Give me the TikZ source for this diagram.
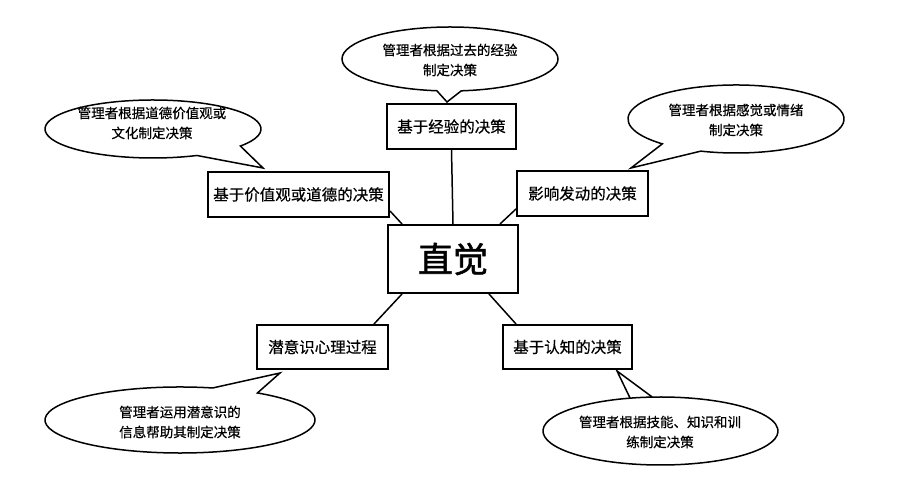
\documentclass[tikz,border=0pt]{standalone}
\usepackage{fontspec}
\setmainfont{Noto Sans CJK SC}[FakeBold=0.5]
\newfontfamily\corefont{Noto Sans CJK SC}[FakeBold=1.5]
\usetikzlibrary{calc}
\begin{document}
\begin{tikzpicture}[x=1pt,y=1pt,
  box/.style={draw, line width=2pt, inner sep=0pt, minimum height=45pt, font=\fontsize{15.5}{18}\selectfont},
  bubble/.style={draw, line width=1.5pt, fill=white, line join=miter},
  btext/.style={align=center, inner sep=0pt, font=\fontsize{13.5}{20}\selectfont},
  link/.style={line width=1.5pt}]
\useasboundingbox[fill=white] (0,0) rectangle (900,500);

% boxes
\node[box, minimum width=130pt, minimum height=68pt, font=\corefont\fontsize{35}{40}\selectfont] (core) at (453,241) {直觉};
\node[box, minimum width=129pt] (top) at (451.5,373.5) {基于经验的决策};
\node[box, minimum width=181pt] (left) at (298.5,305.5) {基于价值观或道德的决策};
\node[box, minimum width=131pt] (right) at (582.5,306.5) {影响发动的决策};
\node[box, minimum width=131pt, minimum height=44pt] (bl) at (322.5,153) {潜意识心理过程};
\node[box, minimum width=129pt, minimum height=44pt] (br) at (567.5,153) {基于认知的决策};

% connectors
\draw[link] (top.south) -- (core.north);
\draw[link] ($(left.south east)+(0,7)$) -- ($(core.north west)+(15,0)$);
\draw[link] ($(right.south west)+(0,8)$) -- ($(core.north east)+(-19,0)$);
\draw[link] ($(core.south west)+(15,0)$) -- ($(bl.north east)+(-15,0)$);
\draw[link] ($(core.south east)+(-30,0)$) -- ($(br.north west)+(14,0)$);

% callouts
\coordinate (c1) at (450,441);
\coordinate (t1) at (447,398);
\draw[bubble] (t1) -- ($(c1)+(-84:108 and 32)$) arc[start angle=-84, end angle=263, x radius=108, y radius=32] -- cycle;
\node[btext] (n1) at (450,440) {管理者根据过去的经验\\制定决策};

\coordinate (c2) at (153,371);
\coordinate (t2) at (263,332);
\draw[bubble] (t2) -- ($(c2)+(-36:108 and 29)$) arc[start angle=-36, end angle=294, x radius=108, y radius=29] -- cycle;
\node[btext] (n2) at (152,377) {管理者根据道德价值观或\\文化制定决策};

\coordinate (c3) at (736,381);
\coordinate (t3) at (631,332);
\draw[bubble] (t3) -- ($(c3)+(251:108 and 34)$) arc[start angle=251, end angle=587, x radius=108, y radius=34] -- cycle;
\node[btext] (n3) at (736,380) {管理者根据感觉或情绪\\制定决策};

\coordinate (c4) at (180,80);
\coordinate (t4) at (280,127);
\draw[bubble] (t4) -- ($(c4)+(76:135 and 33)$) arc[start angle=76, end angle=415, x radius=135, y radius=33] -- cycle;
\node[btext] (n4) at (180,78) {管理者运用潜意识的\\信息帮助其制定决策};

\coordinate (c5) at (660.5,69);
\coordinate (t5) at (617,129);
\draw[bubble] (t5) -- ($(c5)+(94:117.5 and 34)$) arc[start angle=94, end angle=465, x radius=117.5, y radius=34] -- cycle;
\node[btext] (n5) at (660,68) {管理者根据技能、知识和训\\练制定决策};
\end{tikzpicture}
\end{document}
